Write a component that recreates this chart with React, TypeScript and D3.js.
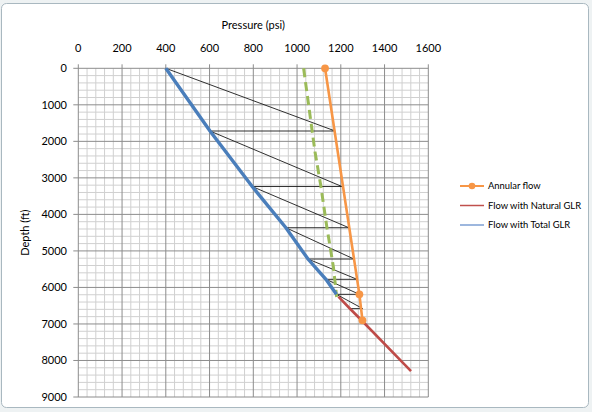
import * as d3 from "d3";

// Pressure (psi) vs depth (ft)
const pressureTicks = [0, 200, 400, 600, 800, 1000, 1200, 1400, 1600];
const depthTicks = [0, 1000, 2000, 3000, 4000, 5000, 6000, 7000, 8000, 9000];

// Annular flow (orange, markers)
const annularPressure = [1128, 1285, 1299];
const annularDepth = [0, 6189, 6900];

// Flow with natural GLR (red)
const naturalPressure = [1189, 1240, 1298, 1521];
const naturalDepth = [6254, 6570, 6920, 8289];

// Flow with total GLR (blue)
const totalPressure = [400, 602, 795, 949, 1050, 1132, 1180];
const totalDepth = [0, 1717, 3237, 4365, 5222, 5778, 6189];

// dashed green helper curve (no legend entry)
const greenPressure = [1030, 1082, 1108, 1136, 1166, 1181];
const greenDepth = [0, 2284, 3195, 4337, 5433, 6262];

// staircase construction: step depths, orange-side pressures
const stepDepth = [0, 1717, 3237, 4365, 5222, 5778, 6189, 6580];
const stepRight = [1128, 1174, 1205, 1237, 1260, 1274, 1285, 1300];
const lastStepLeft = 1240;

const legendItems = ["Annular flow", "Flow with Natural GLR", "Flow with Total GLR"];
const legendColors = ["#f79646", "#c0504d", "#7c9fd3"];

const font = "Lato, 'Open Sans', sans-serif";

export default function App() {
  const width = 592;
  const height = 412;

  const x = d3.scaleLinear().domain([0, 1600]).range([78.3, 428.3]);
  const y = d3.scaleLinear().domain([0, 9000]).range([68.3, 397]);

  const line = d3
    .line<[number, number]>()
    .x((d) => x(d[0]))
    .y((d) => y(d[1]));

  const zip = (p: number[], dep: number[]) =>
    p.map((v, i) => [v, dep[i]] as [number, number]);

  const minorX = d3.range(0, 1601, 40).filter((v) => v % 200 !== 0);
  const minorY = d3.range(0, 9001, 200).filter((v) => v % 1000 !== 0);

  // black thin construction lines
  const segs: [number, number, number, number][] = [];
  for (let i = 0; i < totalPressure.length; i++) {
    segs.push([totalPressure[i], stepDepth[i], stepRight[i + 1], stepDepth[i + 1]]);
    if (i > 0) segs.push([totalPressure[i], stepDepth[i], stepRight[i], stepDepth[i]]);
  }
  const last = stepDepth.length - 1;
  segs.push([lastStepLeft, stepDepth[last], stepRight[last], stepDepth[last]]);

  const [x0, x1] = x.range();
  const [y0, y1] = y.range();

  return (
    <div style={{ position: "fixed", left: 0, top: 0 }}>
      <svg width={width} height={height} style={{ display: "block" }}>
        <rect x={0} y={0} width={width} height={height} fill="#eef2f3" />
        <rect x={1.5} y={3.5} width={587} height={404} rx={5} fill="#ffffff" stroke="#a9b8c0" />

        {/* minor grid */}
        {minorX.map((v) => (
          <line key={"mx" + v} x1={x(v)} x2={x(v)} y1={y0} y2={y1} stroke="#d0d0d0" strokeWidth={1} />
        ))}
        {minorY.map((v) => (
          <line key={"my" + v} x1={x0} x2={x1} y1={y(v)} y2={y(v)} stroke="#d0d0d0" strokeWidth={1} />
        ))}
        {/* major grid */}
        {pressureTicks.map((v) => (
          <line key={"gx" + v} x1={x(v)} x2={x(v)} y1={y0 - 4} y2={y1} stroke="#8c8c8c" strokeWidth={1} />
        ))}
        {depthTicks.map((v) => (
          <line key={"gy" + v} x1={x0 - 5} x2={x1} y1={y(v)} y2={y(v)} stroke="#8c8c8c" strokeWidth={1} />
        ))}

        {/* tick labels */}
        {pressureTicks.map((v) => (
          <text key={"tx" + v} x={x(v)} y={52} textAnchor="middle" fontFamily={font} fontSize={11} fill="#000">
            {v}
          </text>
        ))}
        {depthTicks.map((v) => (
          <text key={"ty" + v} x={67} y={y(v) + 4} textAnchor="end" fontFamily={font} fontSize={11} fill="#000">
            {v}
          </text>
        ))}
        <text x={(x0 + x1) / 2} y={29} textAnchor="middle" fontFamily={font} fontSize={11} fill="#000">
          Pressure (psi)
        </text>
        <text
          transform={`translate(29,${(y0 + y1) / 2}) rotate(-90)`}
          textAnchor="middle"
          fontFamily={font}
          fontSize={11}
          fill="#000"
        >
          Depth (ft)
        </text>

        {/* construction lines */}
        {segs.map((s, i) => (
          <line key={"s" + i} x1={x(s[0])} y1={y(s[1])} x2={x(s[2])} y2={y(s[3])} stroke="#1a1a1a" strokeWidth={0.9} />
        ))}

        {/* green dashed */}
        <path
          d={line(zip(greenPressure, greenDepth)) || ""}
          fill="none"
          stroke="#9bbb59"
          strokeWidth={3}
          strokeDasharray="9,5"
        />

        {/* series */}
        <path d={line(zip(totalPressure, totalDepth)) || ""} fill="none" stroke="#4a7ebb" strokeWidth={3.4} />
        <path d={line(zip(naturalPressure, naturalDepth)) || ""} fill="none" stroke="#be4b48" strokeWidth={2.6} />
        <path d={line(zip(annularPressure, annularDepth)) || ""} fill="none" stroke="#f79646" strokeWidth={2.6} />
        {annularPressure.map((p, i) => (
          <circle key={"m" + i} cx={x(p)} cy={y(annularDepth[i])} r={3.9} fill="#f79646" />
        ))}

        {/* legend */}
        {legendItems.map((name, i) => {
          const ly = 186 + i * 19.5;
          return (
            <g key={name}>
              <line x1={460} x2={484} y1={ly} y2={ly} stroke={legendColors[i]} strokeWidth={i === 0 ? 2 : 1.5} />
              {i === 0 && <circle cx={472} cy={ly} r={3.3} fill={legendColors[i]} />}
              <text x={488} y={ly + 3.3} fontFamily={font} fontSize={9.4} fill="#000">
                {name}
              </text>
            </g>
          );
        })}
      </svg>
    </div>
  );
}
